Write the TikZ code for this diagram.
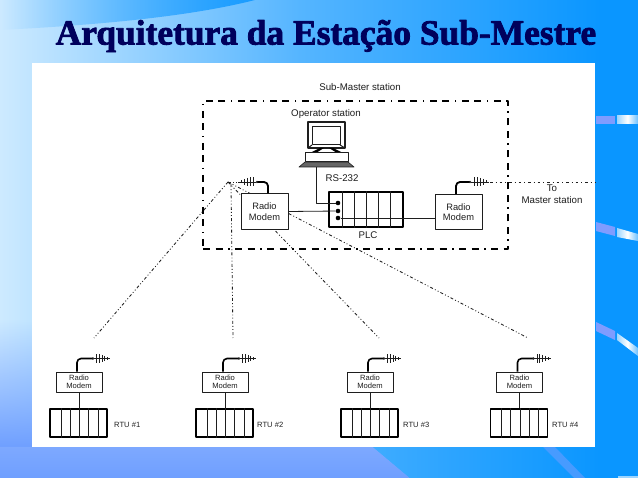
\documentclass[tikz,border=0pt]{standalone}
\usepackage{fontspec}
\setmainfont{Liberation Sans}
\newfontfamily\titlefont[FakeBold=2.2]{Liberation Serif Bold}
\usetikzlibrary{calc,fadings}
\definecolor{bgleft}{HTML}{CDEAFF}
\definecolor{bgmid}{HTML}{55B5FF}
\definecolor{bgright}{HTML}{0A96FF}
\definecolor{peri}{HTML}{6F9FFF}
\definecolor{stripe}{HTML}{7F9CFF}
\definecolor{navy}{HTML}{00005C}
\definecolor{ink}{HTML}{1E1E1E}
\begin{document}
\begin{tikzpicture}[x=1pt, y=-1pt, line join=round,
	modem/.style={draw=ink, fill=white, line width=0.9pt, align=center, inner sep=0pt, text=ink},
	bigmodem/.style={modem, minimum width=47pt, minimum height=35.5pt, font=\fontsize{9.3}{10.5}\selectfont},
	smallmodem/.style={modem, minimum width=46pt, minimum height=20pt, font=\fontsize{7.6}{8}\selectfont},
	rack/.style={draw=black, line width=1.7pt, inner sep=0pt},
	slot/.style={draw=ink, line width=0.6pt},
	contact/.style={circle, fill=black, inner sep=0pt, minimum size=4.6pt},
	label/.style={text=ink, font=\fontsize{9.7}{11.5}\selectfont, inner sep=0pt},
	small/.style={text=ink, font=\fontsize{7.6}{9}\selectfont, inner sep=0pt, anchor=west},
	wire/.style={draw=ink, line width=0.8pt},
	feed/.style={draw=black, line width=1.8pt, rounded corners=4pt},
	radio/.style={draw=ink, line width=0.85pt, dash pattern=on 3pt off 2.2pt on 0.9pt off 2.2pt on 0.9pt off 2.2pt},
	boundary/.style={draw=black, line width=1.5pt, dash pattern=on 7pt off 5.5pt on 7pt off 5.5pt on 1.5pt off 5.5pt},
	antenna/.pic={
		\draw[ink, line width=0.6pt] (0,0) circle (1pt);
		\draw[ink, line width=0.8pt] (1,0) -- (19,0);
		\foreach \p/\h in {4/4.5, 7/4.5, 10/4, 13/3, 16/1.5}
			\draw[ink, line width=0.8pt] (\p,-\h) -- (\p,\h);
	}]
	\useasboundingbox (0,0) rectangle (638,478);
	\shade[left color=bgleft, right color=bgmid] (0,0) rectangle (300,478);
	\shade[left color=bgmid, right color=bgright] (300,0) rectangle (600,478);
	\fill[bgright] (600,0) rectangle (638,478);
	\fill[bgright!80!bgmid, path fading=west] (0,30) .. controls (120,24) and (200,14) .. (255,0) -- (0,0) -- cycle;
	\fill[peri, path fading=north] (0,320) rectangle (32,447);
	\shade[top color=peri!90!white, bottom color=peri] (0,447) -- (373,447) -- (410,478) -- (0,478) -- cycle;
	\shade[left color=bgmid!70!bgright, right color=bgright] (373,447) -- (600,447) -- (600,478) -- (410,478) -- cycle;
	\fill[peri!60!bgright] (543,447) -- (555,447) -- (585,478) -- (574,478) -- cycle;
	\fill[stripe] (596,116) rectangle (615,124);
	\fill[stripe] (596,222) -- (615,227) -- (615,236) -- (596,231) -- cycle;
	\fill[stripe] (596,322) -- (615,331) -- (615,340) -- (596,331) -- cycle;
	\shade[left color=white!60!bgright, right color=bgright!60!white, middle color=white] (617,116) rectangle (638,124);
	\shade[left color=white!60!bgright, right color=bgright!60!white, middle color=white] (617,228) -- (638,234) -- (638,241) -- (617,237) -- cycle;
	\shade[left color=white!60!bgright, right color=bgright!60!white, middle color=white] (617,333) -- (638,348) -- (638,356) -- (617,340) -- cycle;
	\fill[white!60!bgright] (618,476) rectangle (638,478);

	\node (title) [font=\titlefont\fontsize{35.4}{40}\selectfont, text=navy] at (326,36) {Arquitetura da Estação Sub-Mestre};

	\fill[white] (32,63) rectangle (595,447);

	\coordinate (hub) at (228,182);
	\coordinate (drop) at (231,184);
	\coordinate (end1) at (94,338);
	\coordinate (end2) at (233,338);
	\coordinate (end3) at (379,338);
	\coordinate (end4) at (528,338);
	\coordinate (master) at (595,182);
	\coordinate (kb) at (316,167);
	\draw[radio] (hub) -- (end1);
	\draw[radio] (drop) -- (end2);
	\draw[radio] (hub) -- (end3);
	\draw[radio] (hub) -- (end4);
	\draw[radio] (hub) -- (237,182);
	\draw[radio, dash pattern=on 2.5pt off 3pt on 1pt off 3pt] (490,182) -- (master);

	\node (station) [boundary, minimum width=305pt, minimum height=148pt, inner sep=0pt] at (355.5,175) {};

	\node (radio1) [bigmodem] at (264.5,211.5) {Radio\\Modem};
	\node (radio2) [bigmodem] at (458.5,212) {Radio\\Modem};
	\node (plc) [rack, line width=1.9pt, minimum width=74pt, minimum height=35pt] at (366,209.5) {};
	\foreach \k in {1,...,5}
		\draw[slot] ($(plc.north west)!\k/6.3+0.03!(plc.north east)$) -- ($(plc.south west)!\k/6.3+0.03!(plc.south east)$);
	\node (dot1) [contact] at (338,203) {};
	\node (dot2) [contact] at (338,211) {};
	\node (dot3) [contact] at (338,218) {};
	\draw[wire] (radio1.east) -- (dot2);
	\draw[wire] (dot3) -- (dot3 -| radio2.west);
	\draw[wire] (kb) |- (dot1);

	\draw[feed] ([xshift=3.5pt]radio1.north) |- (257,182);
	\draw[feed] ([xshift=-2.5pt]radio2.north) |- (470,182);
	\pic[xscale=-1] at (257,182) {antenna};
	\pic at (470,182) {antenna};

	\draw[ink, fill=white, line width=1.1pt] (308,122) rectangle (345,148);
	\draw[ink, line width=1pt] (312,127) rectangle (340,145);
	\draw[ink, line width=1pt] (308,148) -- (312,145) (345,148) -- (340,145);
	\fill[black] (320,148) -- (324,148) -- (316,153) -- (310,153) -- cycle;
	\fill[black] (329,148) -- (333,148) -- (343,153) -- (337,153) -- cycle;
	\draw[ink, fill=white, line width=1pt] (305,153) rectangle (348,162);
	\draw[ink, fill=black!60, line width=0.6pt] (305,162) -- (348,162) -- (354,167) -- (299,167) -- cycle;

	\node (submaster) [label] at (360,87) {Sub-Master station};
	\node (operator) [label] at (326,114) {Operator station};
	\node (rs) [label] at (342,178) {RS-232};
	\node (plclabel) [label] at (368,235) {PLC};
	\node (tomaster) [label, align=center] at (552,194) {To\\Master station};

	\foreach \i/\mx/\rx/\lx in {1/79/78.5/114, 2/225/224.5/257, 3/370/369.5/403, 4/519.5/519/552} {
		\node (unit\i) [rack, minimum width=57pt, minimum height=28pt] at (\rx,423) {};
		\foreach \k in {1,...,5}
			\draw[slot] ($(unit\i.north west)!\k/6.3+0.04!(unit\i.north east)$) -- ($(unit\i.south west)!\k/6.3+0.04!(unit\i.south east)$);
		\node (modem\i) [smallmodem] at (\mx,382) {Radio\\Modem};
		\draw[wire] (modem\i.south) -- (modem\i.south |- unit\i.north);
		\draw[feed, line width=1.6pt] ([xshift=-2pt]modem\i.north) |- ++(16,-13) coordinate (tip\i);
		\pic[scale=0.9] at (tip\i) {antenna};
		\node (name\i) [small] at (\lx,425) {RTU \#\i};
	}
\end{tikzpicture}
\end{document}
